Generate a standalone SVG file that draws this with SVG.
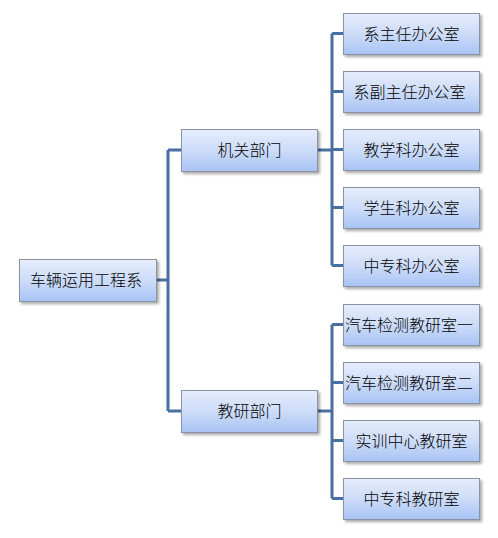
<svg xmlns="http://www.w3.org/2000/svg" width="498" height="538" viewBox="0 0 498 538">
<defs>
<linearGradient id="g" x1="0" y1="0" x2="0" y2="1">
<stop offset="0" stop-color="#e6edfc"/>
<stop offset="0.5" stop-color="#cddcf9"/>
<stop offset="1" stop-color="#a8c3f4"/>
</linearGradient>
<filter id="sh" x="-10%" y="-20%" width="130%" height="160%">
<feGaussianBlur in="SourceAlpha" stdDeviation="1.5"/>
<feOffset dx="1.5" dy="2" result="b"/>
<feComponentTransfer><feFuncA type="linear" slope="0.35"/></feComponentTransfer>
<feMerge><feMergeNode/><feMergeNode in="SourceGraphic"/></feMerge>
</filter>
</defs>
<style>
.box{fill:url(#g);stroke:#8a93a3;stroke-width:1;filter:url(#sh)}
.t{font-family:"Noto Sans CJK SC","Liberation Sans",sans-serif;font-size:16px;font-weight:300;fill:#000;text-anchor:middle;dominant-baseline:central}
.c{fill:none;stroke:#4a6fa2;stroke-width:3}
</style>
<rect width="498" height="538" fill="#fff"/>
<g id="connectors">
<path class="c" d="M156,280 H168 M168,150 V411 M168,150 H181 M168,411 H181"/>
<path class="c" d="M317,150 H332 M332,33.5 V265.5 M332,33.5 H343 M332,91.5 H343 M332,149.5 H343 M332,207.5 H343 M332,265.5 H343"/>
<path class="c" d="M317,411 H332 M332,324.5 V498.5 M332,324.5 H343 M332,382.5 H343 M332,440.5 H343 M332,498.5 H343"/>
</g>
<g id="root"><rect class="box" x="19.5" y="259.5" width="137" height="42"/><text class="t" x="86" y="279">车辆运用工程系</text></g>
<g id="jiguan"><rect class="box" x="181.5" y="129.5" width="136" height="42"/><text class="t" x="249.5" y="149">机关部门</text></g>
<g id="jiaoyan"><rect class="box" x="181.5" y="390.5" width="136" height="42"/><text class="t" x="249.5" y="410">教研部门</text></g>
<g id="n1"><rect class="box" x="343.5" y="13.5" width="136" height="41"/><text class="t" x="411.5" y="32.5">系主任办公室</text></g>
<g id="n2"><rect class="box" x="343.5" y="71.5" width="136" height="41"/><text class="t" x="409.5" y="90.5">系副主任办公室</text></g>
<g id="n3"><rect class="box" x="343.5" y="129.5" width="136" height="41"/><text class="t" x="411.5" y="148.5">教学科办公室</text></g>
<g id="n4"><rect class="box" x="343.5" y="187.5" width="136" height="41"/><text class="t" x="411.5" y="206.5">学生科办公室</text></g>
<g id="n5"><rect class="box" x="343.5" y="245.5" width="136" height="41"/><text class="t" x="411.5" y="264.5">中专科办公室</text></g>
<g id="n6"><rect class="box" x="343.5" y="304.5" width="136" height="41"/><text class="t" x="409" y="323.5">汽车检测教研室一</text></g>
<g id="n7"><rect class="box" x="343.5" y="362.5" width="136" height="41"/><text class="t" x="409" y="381.5">汽车检测教研室二</text></g>
<g id="n8"><rect class="box" x="343.5" y="420.5" width="136" height="41"/><text class="t" x="411.5" y="439.5">实训中心教研室</text></g>
<g id="n9"><rect class="box" x="343.5" y="478.5" width="136" height="41"/><text class="t" x="411.5" y="497.5">中专科教研室</text></g>
</svg>
